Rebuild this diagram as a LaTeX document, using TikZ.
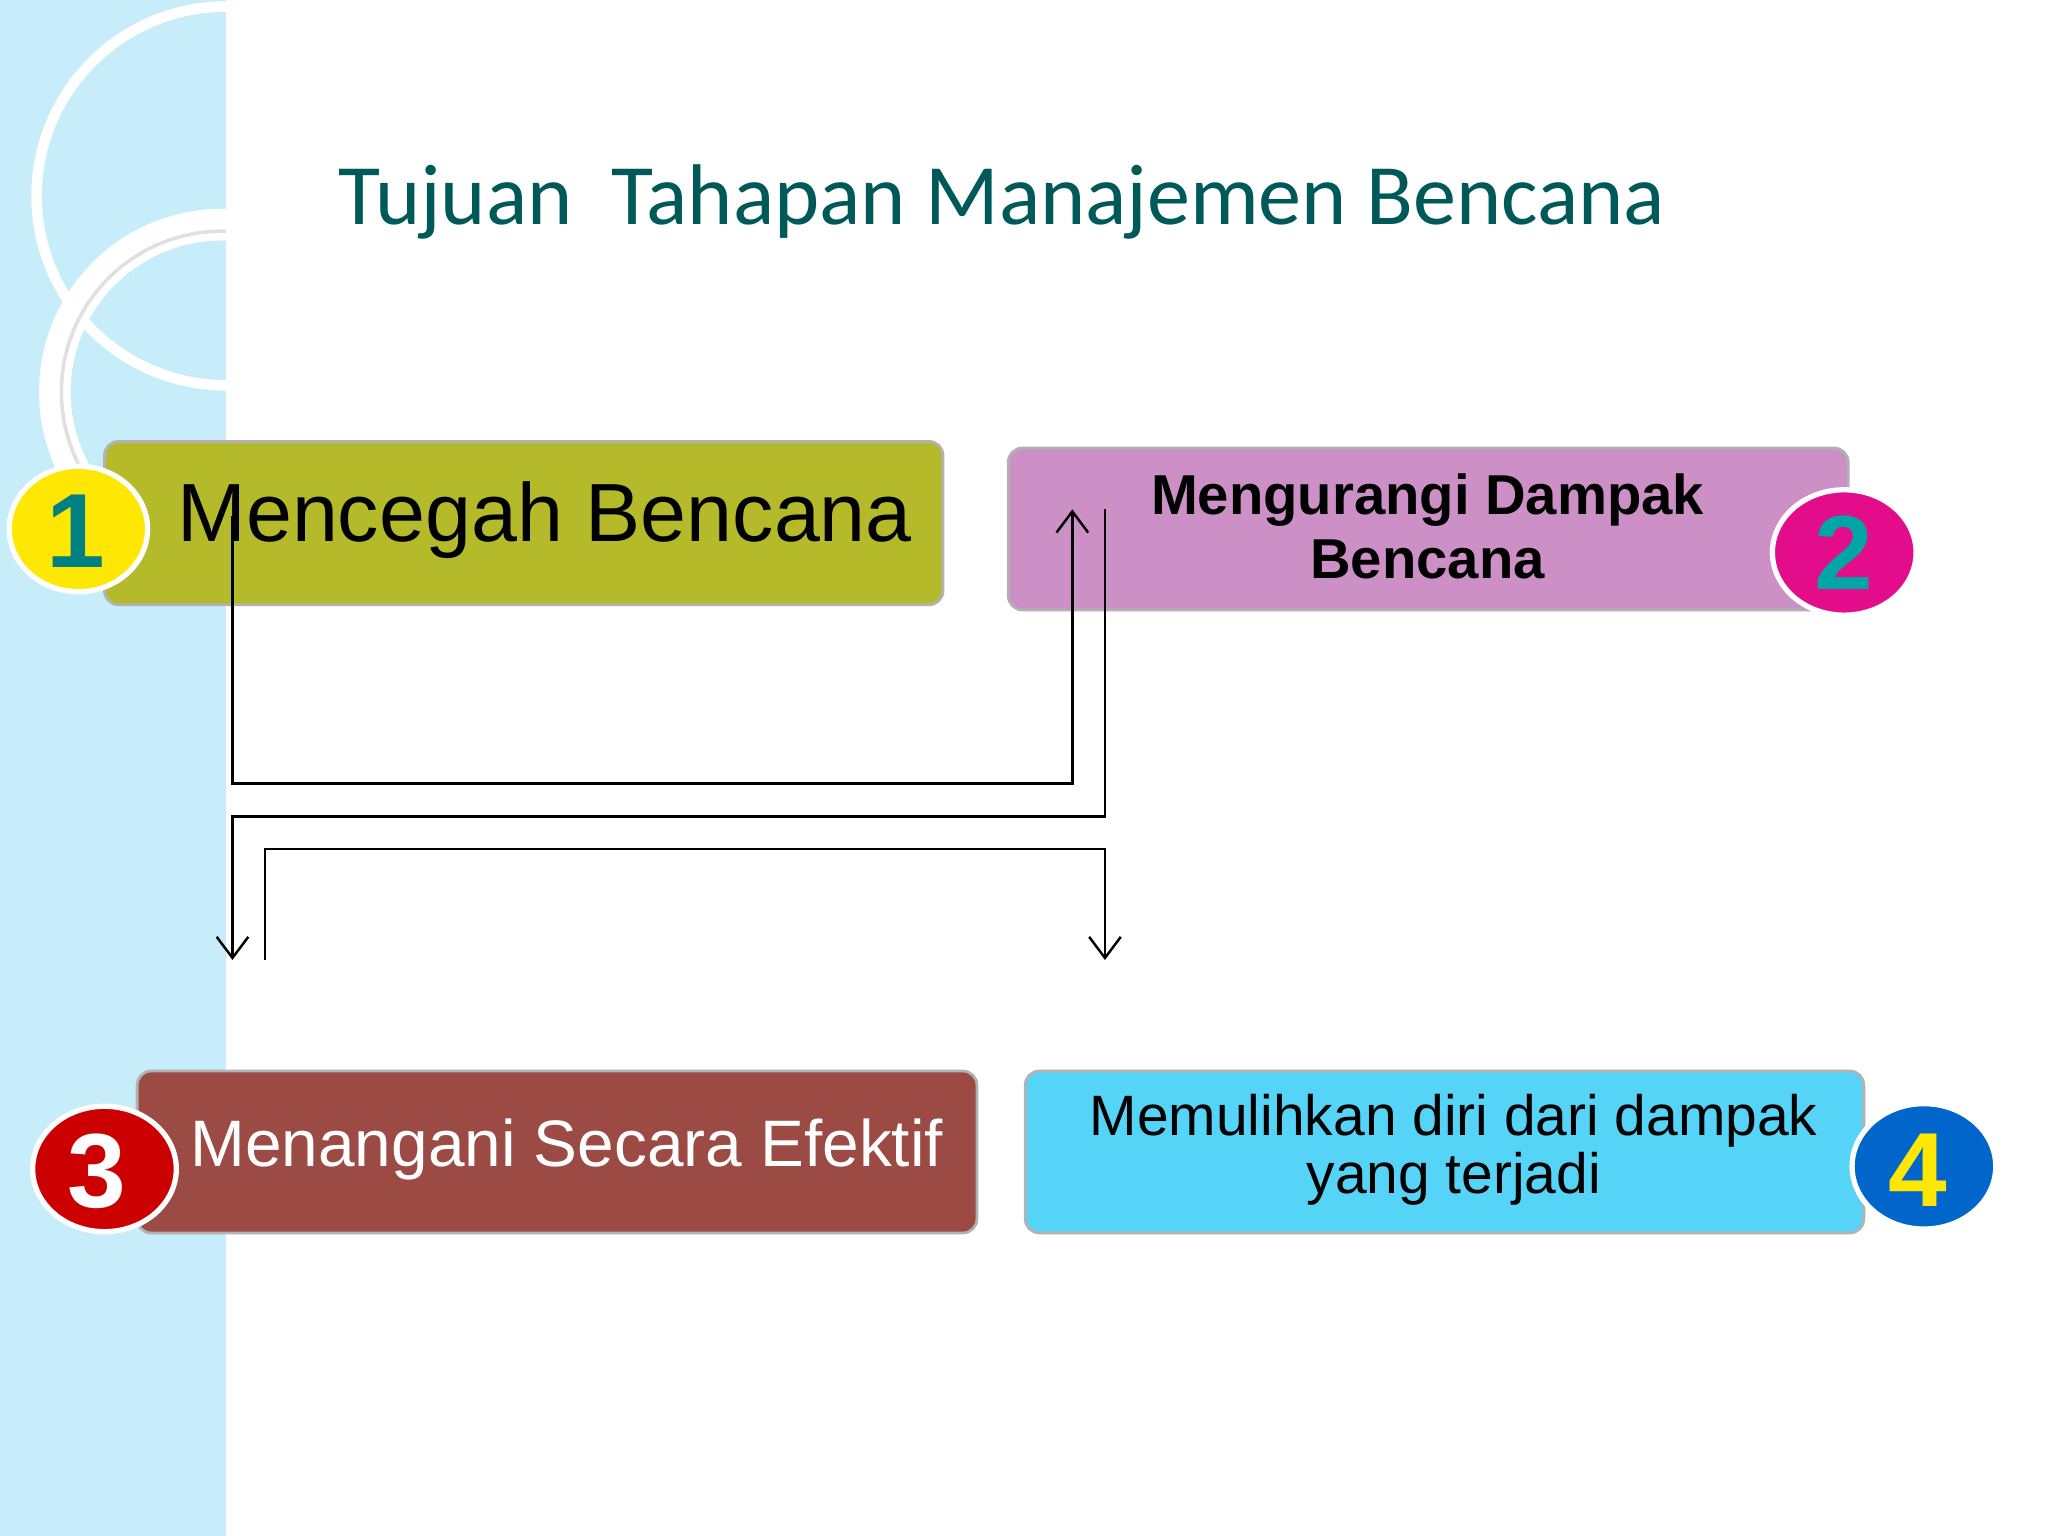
\documentclass[tikz,border=0pt]{standalone}
\usepackage{fontspec}
\setmainfont{Liberation Sans}
\newfontfamily\titlefont{Carlito}
\usetikzlibrary{arrows.meta,shapes.geometric}
\begin{document}
\begin{tikzpicture}[x=0.01306cm,y=-0.01306cm,
  box/.style={draw=black!30,line width=0.8pt,rounded corners=4pt},
  conn/.style={black,line width=0.7pt},
  tip/.style={conn,-{Straight Barb[length=6pt,width=9pt]}}]
\useasboundingbox (0,0) rectangle (1568,1176);
\fill[white] (0,0) rectangle (1568,1176);
\fill[cyan!22] (0,0) rectangle (173,1176);
\begin{scope}
\clip (0,0) rectangle (173,1176);
\draw[white,line width=3pt] (173,150) circle (145);
\draw[white,line width=9pt] (170,300) circle (128);
\draw[black!12,line width=1pt] (170,300) circle (123);
\end{scope}
\node[font=\titlefont\fontsize{24.5}{28}\selectfont,text=teal!70!black] (title) at (767,155) {Tujuan\ \ Tahapan Manajemen Bencana};
% boxes
\draw[box,fill={rgb,255:red,180;green,186;blue,42}] (80,338) rectangle (722,463);
\node[font=\fontsize{23.5}{28}\selectfont] (t1) at (417,398) {Mencegah Bencana};
\draw[box,fill={rgb,255:red,204;green,143;blue,198}] (772,343) rectangle (1415,467);
\node[font=\bfseries\fontsize{16}{18}\selectfont,align=center] (t2) at (1093,403) {Mengurangi Dampak\\Bencana};
\draw[box,fill={rgb,255:red,155;green,74;blue,68}] (105,820) rectangle (748,944);
\node[font=\fontsize{18.7}{22}\selectfont,text=white] (t3) at (434,880) {Menangani Secara Efektif};
\draw[box,fill={rgb,255:red,85;green,212;blue,248}] (785,820) rectangle (1427,944);
\node[font=\fontsize{16.2}{16.5}\selectfont,align=center] (t4) at (1113,880) {Memulihkan diri dari dampak\\yang terjadi};
% badges
\fill[yellow!90!orange,draw=white,line width=1.5pt] (60,405) ellipse (53 and 48);
\node[font=\bfseries\fontsize{30}{30}\selectfont,text=teal] (b1) at (58,407) {1};
\fill[magenta!90!violet,draw=white,line width=1.5pt] (1412,423) ellipse (55 and 48);
\node[font=\bfseries\fontsize{30}{30}\selectfont,text=teal!70!cyan] (b2) at (1412,423) {2};
\fill[red!80!black,draw=white,line width=1.5pt] (80,895) ellipse (55 and 48);
\node[font=\bfseries\fontsize{30}{30}\selectfont,text=white] (b3) at (74,897) {3};
\fill[blue!50!cyan!80!black,draw=white,line width=1.5pt] (1473,893) ellipse (55 and 48);
\node[font=\bfseries\fontsize{30}{30}\selectfont,text=yellow!90!orange] (b4) at (1468,896) {4};
% connectors
\coordinate (a0) at (178,395); \coordinate (a1) at (821,390);
\coordinate (c0) at (846,390); \coordinate (c1) at (178,735);
\coordinate (d0) at (203,735); \coordinate (d1) at (846,735);
\draw[tip] (a0) |- (821,600) -- (a1);
\draw[tip] (c0) |- (178,625) -- (c1);
\draw[tip] (d0) |- (846,650) -- (d1);
\end{tikzpicture}
\end{document}
